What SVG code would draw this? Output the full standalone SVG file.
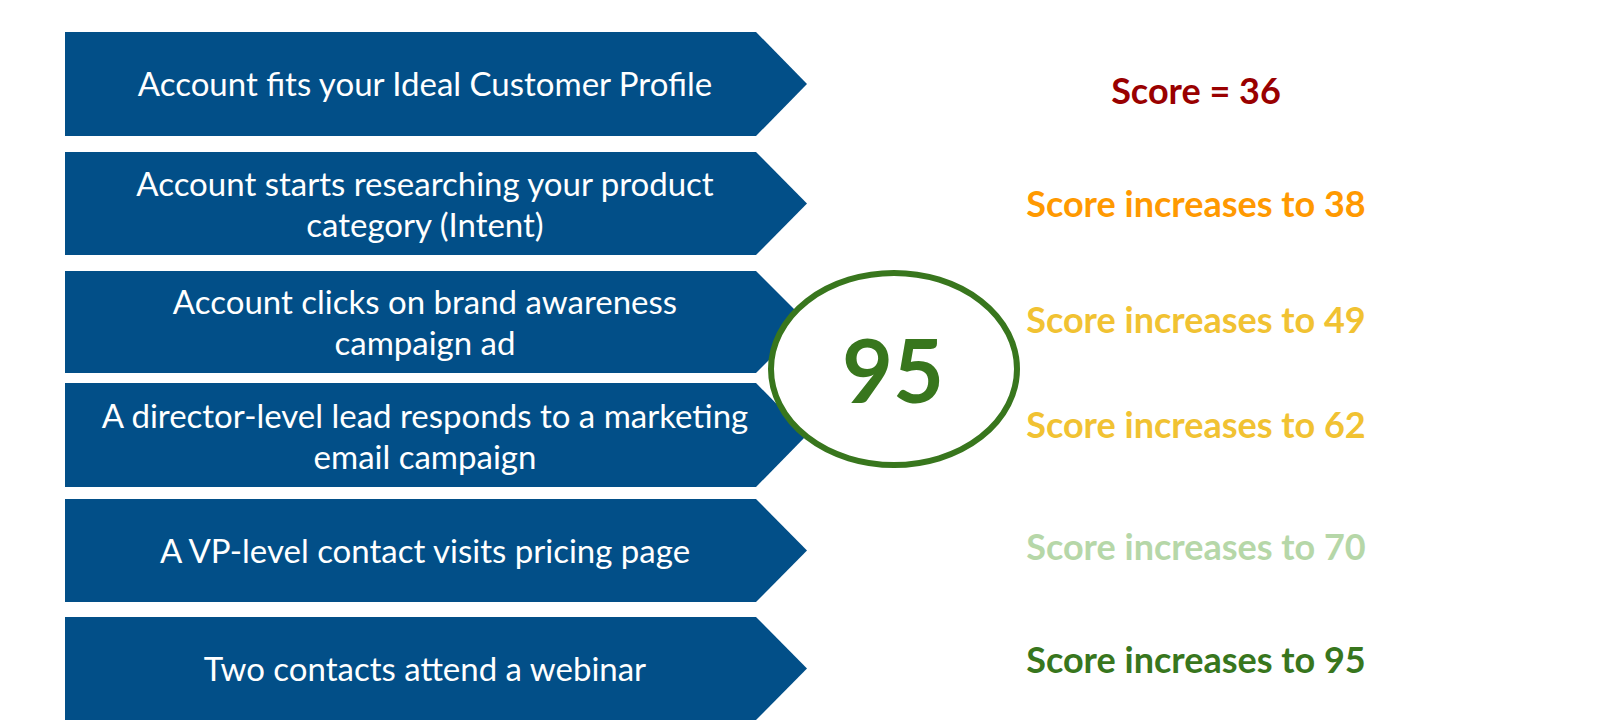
<svg xmlns="http://www.w3.org/2000/svg" width="1600" height="720" viewBox="0 0 1600 720">
<style>
.step{fill:#024f88}
.lbl{font-family:Lato,"Open Sans","Liberation Sans",sans-serif;font-size:33px;fill:#ffffff;text-anchor:middle}
.score{font-family:Lato,"Open Sans","Liberation Sans",sans-serif;font-size:36px;font-weight:bold;text-anchor:middle}
</style>
<rect width="1600" height="720" fill="#ffffff"/>
<g id="step1"><polygon class="step" points="65,32 756,32 807,84 756,136 65,136"/><text class="lbl" x="425" y="96">Account fits your Ideal Customer Profile</text></g>
<g id="step2"><polygon class="step" points="65,152 756,152 807,203.5 756,255 65,255"/><text class="lbl" x="425" y="196">Account starts researching your product</text><text class="lbl" x="425" y="237">category (Intent)</text></g>
<g id="step3"><polygon class="step" points="65,271 756,271 807,322 756,373 65,373"/><text class="lbl" x="425" y="314">Account clicks on brand awareness</text><text class="lbl" x="425" y="355">campaign ad</text></g>
<g id="step4"><polygon class="step" points="65,383 756,383 807,435 756,487 65,487"/><text class="lbl" x="425" y="428">A director-level lead responds to a marketing</text><text class="lbl" x="425" y="469">email campaign</text></g>
<g id="step5"><polygon class="step" points="65,499 756,499 807,550.5 756,602 65,602"/><text class="lbl" x="425" y="563">A VP-level contact visits pricing page</text></g>
<g id="step6"><polygon class="step" points="65,617 756,617 807,668.5 756,720 65,720"/><text class="lbl" x="425" y="681">Two contacts attend a webinar</text></g>
<g id="total"><ellipse cx="894" cy="369" rx="123" ry="96" fill="#ffffff" stroke="#38761d" stroke-width="6"/><text x="893" y="403" font-family="Lato,'Open Sans','Liberation Sans',sans-serif" font-size="88" font-weight="bold" fill="#38761d" text-anchor="middle">95</text></g>
<g id="scores">
<text class="score" x="1196" y="104" fill="#990000">Score = 36</text>
<text class="score" x="1196" y="217" fill="#ff9900">Score increases to 38</text>
<text class="score" x="1196" y="333" fill="#f1c232">Score increases to 49</text>
<text class="score" x="1196" y="438" fill="#f1c232">Score increases to 62</text>
<text class="score" x="1196" y="560" fill="#b6d7a8">Score increases to 70</text>
<text class="score" x="1196" y="673" fill="#38761d">Score increases to 95</text>
</g>
<g id="connectors"></g>
</svg>
